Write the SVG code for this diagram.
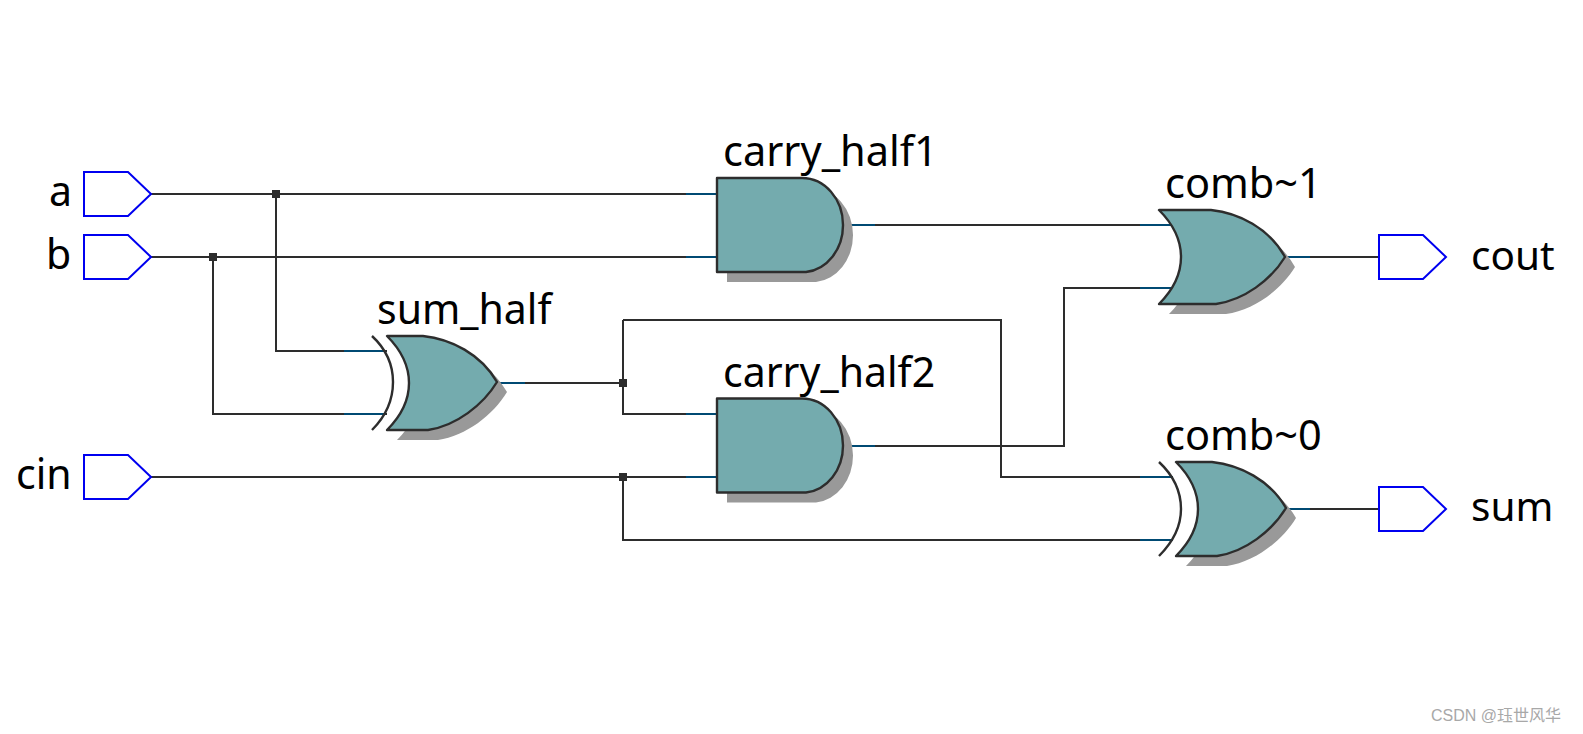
<svg xmlns="http://www.w3.org/2000/svg" width="1583" height="734" viewBox="0 0 1583 734">
<style>
.w{fill:none;stroke:#2d2d2d;stroke-width:2}
.s{fill:none;stroke:#004a73;stroke-width:2}
.p{fill:#fff;stroke:#0000f0;stroke-width:2}
.g{fill:#74abae;stroke:#2d2d2d;stroke-width:2.4;stroke-linejoin:round}
.sh{fill:#999;stroke:none}
.a{fill:none;stroke:#2d2d2d;stroke-width:2.4}
.j{fill:#2d2d2d}
.t{font-family:"Noto Sans","Open Sans",sans-serif;font-size:41px;fill:#000}
.l{font-size:41.500px}
.r{font-size:40.500px}
.m{font-family:"Liberation Sans","Noto Sans CJK SC",sans-serif;font-size:16px;fill:#a8a8a8}
</style>
<defs>
<path id="and" d="M717 178H802A41 47 0 0 1 843 225A41 47 0 0 1 806 272H717Z"/>
<path id="or" d="M0 0H52C80 3 110 18 126 47C112 70 85 90 57 94H0C14 80 22 65 22 47C22 29 14 14 0 0Z"/>
<path id="xor" d="M0 0H36C64 3 94 18 110 46C96 69 69 90 41 94H0C14 80 22 65 22 47C22 29 14 14 0 0Z"/>
</defs>
<rect width="1583" height="734" fill="#fff"/>
<g id="connectors">
<path class="w" d="M151 194H717M276 194V351H387M151 257H717M213 257V414H387"/>
<path class="w" d="M497 383H623M623 320V414H717M623 320H1001V477H1170"/>
<path class="w" d="M151 477H717M623 477V540H1170"/>
<path class="w" d="M843 225H1170M843 446H1064V288H1170"/>
<path class="w" d="M1285 257H1379M1285 509H1379"/>
<path class="s" d="M686 194H717M686 257H717M843 225H875M686 414H717M686 477H717M843 446H875"/>
<path class="s" d="M344 351H385M344 414H385M497 383H525"/>
<path class="s" d="M1140 225H1173M1140 288H1173M1285 257H1310M1140 477H1173M1140 540H1173M1285 509H1310"/>
<rect class="j" x="272" y="190" width="8" height="8"/>
<rect class="j" x="209" y="253" width="8" height="8"/>
<rect class="j" x="619" y="379" width="8" height="8"/>
<rect class="j" x="619" y="473" width="8" height="8"/>
</g>
<g id="a"><path class="p" d="M84 172H128L151 194L128 216H84Z"/><text class="t" x="49" y="206">a</text></g>
<g id="b"><path class="p" d="M84 235H128L151 257L128 279H84Z"/><text class="t" x="46" y="269">b</text></g>
<g id="cin"><path class="p" d="M84 455H128L151 477L128 499H84Z"/><text class="t" x="16" y="489">cin</text></g>
<g id="cout"><path class="p" d="M1379 235H1423L1446 257L1423 279H1379Z"/><text class="t r" x="1471" y="270">cout</text></g>
<g id="sum"><path class="p" d="M1379 487H1423L1446 509L1423 531H1379Z"/><text class="t r" x="1471" y="521">sum</text></g>
<g id="carry_half1">
<use href="#and" class="sh" transform="translate(10 10)"/><use href="#and" class="g"/>
<text class="t l" x="723" y="166">carry_half1</text></g>
<g id="carry_half2">
<use href="#and" class="sh" transform="translate(10 230.500)"/><use href="#and" class="g" transform="translate(0 220.500)"/>
<text class="t" x="723" y="387">carry_half2</text></g>
<g id="sum_half">
<path class="a" d="M372 336C386 349 393 365 393 382C393 400 386 416 372 430"/>
<use href="#xor" class="sh" transform="translate(397 346)"/><use href="#xor" class="g" transform="translate(387 336)"/>
<text class="t" x="377" y="324">sum_half</text></g>
<g id="comb~1">
<use href="#or" class="sh" transform="translate(1169 220)"/><use href="#or" class="g" transform="translate(1159 210)"/>
<text class="t l" x="1165" y="198">comb~1</text></g>
<g id="comb~0">
<path class="a" d="M1159 462C1173 475 1181 491 1181 509C1181 526 1173 542 1159 556"/>
<use href="#xor" class="sh" transform="translate(1186 472)"/><use href="#xor" class="g" transform="translate(1176 462)"/>
<text class="t l" x="1165" y="450">comb~0</text></g>
<text class="m" x="1431" y="721">CSDN @珏世风华</text>
</svg>
